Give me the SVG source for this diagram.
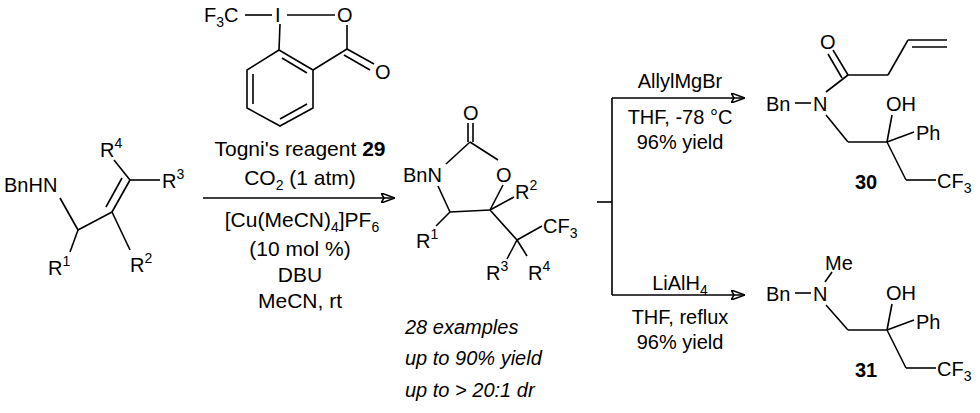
<svg xmlns="http://www.w3.org/2000/svg" width="980" height="413" viewBox="0 0 980 413">
<defs>
<marker id="ah" viewBox="0 0 14 10" refX="14" refY="5" markerWidth="14" markerHeight="10" markerUnits="userSpaceOnUse" orient="auto"><path d="M0,0 L14,5 L0,10 L3,5 z" fill="#000" stroke="none"/></marker>
</defs>
<style>
text{font-family:"Liberation Sans",Arial,sans-serif;font-size:20px;fill:#000}
.c{text-anchor:middle}
.k{font-size:21px}
.b{font-weight:bold}
.i{font-style:italic}
.s{font-size:14px}
line,polyline,path{stroke:#000;stroke-width:1.6;fill:none}
</style>
<rect width="980" height="413" fill="#fff"/>
<g id="togni">
<text x="204" y="22">F<tspan class="s" dy="5">3</tspan><tspan dy="-5">C</tspan></text>
<line x1="245" y1="15" x2="272" y2="15"/>
<text x="275" y="22">I</text>
<line x1="287" y1="15" x2="335" y2="15"/>
<text x="337" y="22">O</text>
<line x1="280" y1="24" x2="279" y2="50"/>
<line x1="347" y1="25" x2="347" y2="49"/>
<polyline points="279,50 313,70 313,108 280,126 247,108 247,70 279,50"/>
<line x1="282" y1="58" x2="307" y2="73"/>
<line x1="253" y1="74" x2="253" y2="104"/>
<line x1="280" y1="119" x2="307" y2="104"/>
<line x1="313" y1="70" x2="347" y2="49"/>
<line x1="347" y1="49" x2="374" y2="64"/>
<line x1="344" y1="55" x2="370" y2="70"/>
<text x="375" y="79">O</text>
</g>
<g id="substrate">
<text x="4" y="192">BnHN</text>
<line x1="60" y1="198" x2="78" y2="230"/>
<line x1="78" y1="230" x2="112" y2="212"/>
<line x1="78" y1="230" x2="70" y2="252"/>
<text x="48" y="275">R<tspan class="s" dy="-9">1</tspan></text>
<line x1="112" y1="212" x2="130" y2="180"/>
<line x1="106" y1="207" x2="122" y2="178"/>
<line x1="112" y1="212" x2="130" y2="250"/>
<text x="130" y="272">R<tspan class="s" dy="-9">2</tspan></text>
<line x1="130" y1="180" x2="114" y2="160"/>
<text x="100" y="157">R<tspan class="s" dy="-9">4</tspan></text>
<line x1="130" y1="180" x2="160" y2="180"/>
<text x="162" y="188">R<tspan class="s" dy="-9">3</tspan></text>
</g>
<g id="connectors">
<line x1="203" y1="198" x2="395" y2="198" marker-end="url(#ah)"/>
<line x1="597" y1="202" x2="612" y2="202"/>
<line x1="612" y1="98" x2="612" y2="295"/>
<line x1="612" y1="98" x2="745" y2="98" marker-end="url(#ah)"/>
<line x1="612" y1="295" x2="745" y2="295" marker-end="url(#ah)"/>
</g>
<g id="cond1">
<text class="c k" x="300" y="156">Togni's reagent <tspan class="b">29</tspan></text>
<text class="c k" x="300" y="185">CO<tspan class="s" dy="5">2</tspan><tspan dy="-5"> (1 atm)</tspan></text>
<text class="c k" x="302" y="227">[Cu(MeCN)<tspan class="s" dy="5">4</tspan><tspan dy="-5">]PF</tspan><tspan class="s" dy="5">6</tspan></text>
<text class="c k" x="300" y="256">(10 mol %)</text>
<text class="c k" x="300" y="282">DBU</text>
<text class="c k" x="300" y="308">MeCN, rt</text>
</g>
<g id="oxazolidinone">
<text x="463" y="120">O</text>
<line x1="468" y1="123" x2="468" y2="142"/>
<line x1="473" y1="123" x2="473" y2="142"/>
<text x="403" y="182">BnN</text>
<line x1="446" y1="164" x2="470" y2="142"/>
<line x1="470" y1="142" x2="498" y2="160"/>
<text x="496" y="182">O</text>
<line x1="503" y1="185" x2="490" y2="210"/>
<line x1="438" y1="186" x2="450" y2="212"/>
<line x1="450" y1="212" x2="490" y2="210"/>
<line x1="450" y1="212" x2="436" y2="226"/>
<text x="416" y="248">R<tspan class="s" dy="-9">1</tspan></text>
<line x1="490" y1="210" x2="514" y2="197"/>
<text x="515" y="199">R<tspan class="s" dy="-9">2</tspan></text>
<line x1="490" y1="210" x2="517" y2="240"/>
<line x1="517" y1="240" x2="542" y2="226"/>
<text x="543" y="233">CF<tspan class="s" dy="5">3</tspan></text>
<line x1="517" y1="240" x2="507" y2="259"/>
<line x1="517" y1="240" x2="527" y2="256"/>
<text x="486" y="280">R<tspan class="s" dy="-9">3</tspan></text>
<text x="528" y="280">R<tspan class="s" dy="-9">4</tspan></text>
</g>
<g id="notes">
<text class="i" x="405" y="334">28 examples</text>
<text class="i" x="405" y="365">up to 90% yield</text>
<text class="i" x="405" y="397">up to &gt; 20:1 dr</text>
</g>
<g id="cond2">
<text class="c" x="680" y="88">AllylMgBr</text>
<text class="c" x="680" y="124">THF, -78 °C</text>
<text class="c" x="680" y="149">96% yield</text>
<text class="c" x="680" y="290">LiAlH<tspan class="s" dy="5">4</tspan></text>
<text class="c" x="680" y="324">THF, reflux</text>
<text class="c" x="680" y="349">96% yield</text>
</g>
<g id="p30">
<text x="766" y="111">Bn</text>
<line x1="795" y1="103" x2="811" y2="103"/>
<text x="813" y="111">N</text>
<line x1="826" y1="92" x2="848" y2="75"/>
<line x1="848" y1="75" x2="833" y2="50"/>
<line x1="842" y1="78" x2="828" y2="54"/>
<text x="820" y="49">O</text>
<line x1="848" y1="75" x2="888" y2="75"/>
<line x1="888" y1="75" x2="908" y2="40"/>
<line x1="908" y1="40" x2="947" y2="40"/>
<line x1="912" y1="47" x2="947" y2="47"/>
<line x1="826" y1="115" x2="848" y2="142"/>
<line x1="848" y1="142" x2="887" y2="142"/>
<line x1="887" y1="142" x2="892" y2="115"/>
<text x="886" y="111">OH</text>
<line x1="887" y1="142" x2="914" y2="132"/>
<text x="916" y="140">Ph</text>
<line x1="887" y1="142" x2="906" y2="180"/>
<line x1="906" y1="180" x2="936" y2="180"/>
<text x="937" y="188">CF<tspan class="s" dy="5">3</tspan></text>
<text class="c b" x="866" y="189">30</text>
</g>
<g id="p31">
<text x="766" y="301">Bn</text>
<line x1="795" y1="293" x2="811" y2="293"/>
<text x="813" y="301">N</text>
<line x1="825" y1="282" x2="832" y2="272"/>
<text x="825" y="270">Me</text>
<line x1="826" y1="305" x2="848" y2="330"/>
<line x1="848" y1="330" x2="887" y2="330"/>
<line x1="887" y1="330" x2="892" y2="304"/>
<text x="886" y="300">OH</text>
<line x1="887" y1="330" x2="914" y2="320"/>
<text x="916" y="329">Ph</text>
<line x1="887" y1="330" x2="906" y2="368"/>
<line x1="906" y1="368" x2="936" y2="368"/>
<text x="937" y="376">CF<tspan class="s" dy="5">3</tspan></text>
<text class="c b" x="866" y="377">31</text>
</g>
</svg>
